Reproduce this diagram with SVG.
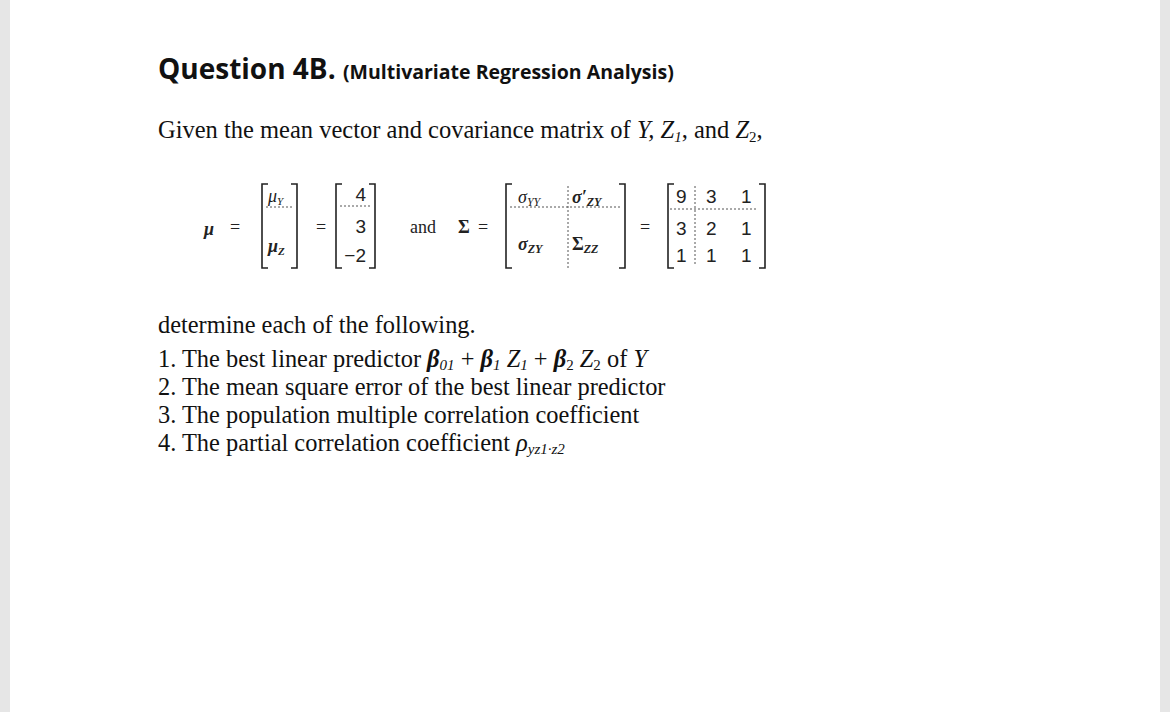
<svg xmlns="http://www.w3.org/2000/svg" width="1170" height="712" viewBox="0 0 1170 712">
<style>
.s{font-family:"Liberation Serif",serif;fill:#111}
.b{fill:none;stroke:#222;stroke-width:1.6}
.d{stroke:#555;stroke-width:1;stroke-dasharray:2 2}
.m{font-family:"Liberation Serif",serif;fill:#222;font-size:18px}
.n{font-family:"Liberation Sans",sans-serif;fill:#222;font-size:19px}
</style>
<rect width="1170" height="712" fill="#e6e6e6"/>
<rect x="10" y="0" width="1150" height="712" fill="#fff"/>
<text x="158" y="79" font-family="Open Sans,sans-serif" font-weight="bold" font-size="28" fill="#111">Question 4B. <tspan font-size="19.5">(Multivariate Regression Analysis)</tspan></text>
<text class="s" x="158" y="138" font-size="24.5">Given the mean vector and covariance matrix of <tspan font-style="italic">Y, Z<tspan font-size="15" dy="4">1</tspan></tspan><tspan dy="-4">, and </tspan><tspan font-style="italic">Z</tspan><tspan font-size="15" dy="4">2</tspan><tspan dy="-4">,</tspan></text>
<g id="eq">
<text class="m" x="204" y="235" font-weight="bold" font-style="italic">μ</text>
<text class="m" x="230" y="233">=</text>
<path class="b" d="M268 184h-6v84h6M291 184h6v84h-6"/>
<line class="d" x1="266" y1="207" x2="294" y2="207"/>
<text class="m" x="268" y="202" font-style="italic" font-size="16">μ<tspan font-size="11" dy="3">Y</tspan></text>
<text class="m" x="268" y="252" font-style="italic" font-weight="bold" font-size="16">μ<tspan font-size="11" dy="3">Z</tspan></text>
<text class="m" x="316" y="233">=</text>
<path class="b" d="M342 184h-6v84h6M369 184h6v84h-6"/>
<line class="d" x1="340" y1="206" x2="370" y2="206"/>
<text class="n" x="366" y="201" text-anchor="end">4</text>
<text class="n" x="366" y="233" text-anchor="end">3</text>
<text class="n" x="366" y="262" text-anchor="end">−2</text>
<text class="m" x="410" y="233" font-size="20">and</text>
<text class="m" x="458" y="233" font-weight="bold" font-size="20">Σ</text>
<text class="m" x="478" y="233" font-size="20">=</text>
<path class="b" d="M512 184h-6v84h6M619 184h6v84h-6"/>
<line class="d" x1="510" y1="207" x2="622" y2="207"/>
<line class="d" x1="568" y1="186" x2="568" y2="268"/>
<text class="m" x="518" y="203" font-style="italic">σ<tspan font-size="12" dy="3">YY</tspan></text>
<text class="m" x="572" y="203" font-style="italic" font-weight="bold">σ′<tspan font-size="12" dy="3">ZY</tspan></text>
<text class="m" x="518" y="250" font-style="italic" font-weight="bold">σ<tspan font-size="12" dy="3">ZY</tspan></text>
<text class="m" x="572" y="250" font-weight="bold">Σ<tspan font-size="12" dy="3" font-style="italic">ZZ</tspan></text>
<text class="m" x="640" y="233">=</text>
<path class="b" d="M674 184h-6v84h6M759 184h6v84h-6"/>
<line class="d" x1="670" y1="209" x2="758" y2="209"/>
<line class="d" x1="695" y1="186" x2="695" y2="266"/>
<text class="n" x="676" y="203">9</text>
<text class="n" x="706" y="203">3</text>
<text class="n" x="741" y="203">1</text>
<text class="n" x="676" y="235">3</text>
<text class="n" x="706" y="235">2</text>
<text class="n" x="741" y="235">1</text>
<text class="n" x="676" y="262">1</text>
<text class="n" x="706" y="262">1</text>
<text class="n" x="741" y="262">1</text>
</g>
<g class="s" font-size="24.4">
<text x="158" y="333">determine each of the following.</text>
<text x="158" y="367">1. The best linear predictor <tspan font-weight="bold" font-style="italic">β</tspan><tspan font-size="15" font-style="italic" dy="3">01</tspan><tspan dy="-3"> + </tspan><tspan font-weight="bold" font-style="italic">β</tspan><tspan font-size="15" font-style="italic" dy="3">1</tspan><tspan dy="-3" font-style="italic"> Z</tspan><tspan font-size="15" font-style="italic" dy="3">1</tspan><tspan dy="-3"> + </tspan><tspan font-weight="bold" font-style="italic">β</tspan><tspan font-size="15" dy="3">2</tspan><tspan dy="-3" font-style="italic"> Z</tspan><tspan font-size="15" dy="3">2</tspan><tspan dy="-3"> of </tspan><tspan font-style="italic">Y</tspan></text>
<text x="158" y="395">2. The mean square error of the best linear predictor</text>
<text x="158" y="423">3. The population multiple correlation coefficient</text>
<text x="158" y="451">4. The partial correlation coefficient <tspan font-style="italic">ρ</tspan><tspan font-size="15" font-style="italic" dy="3">yz1·z2</tspan></text>
</g>
</svg>
